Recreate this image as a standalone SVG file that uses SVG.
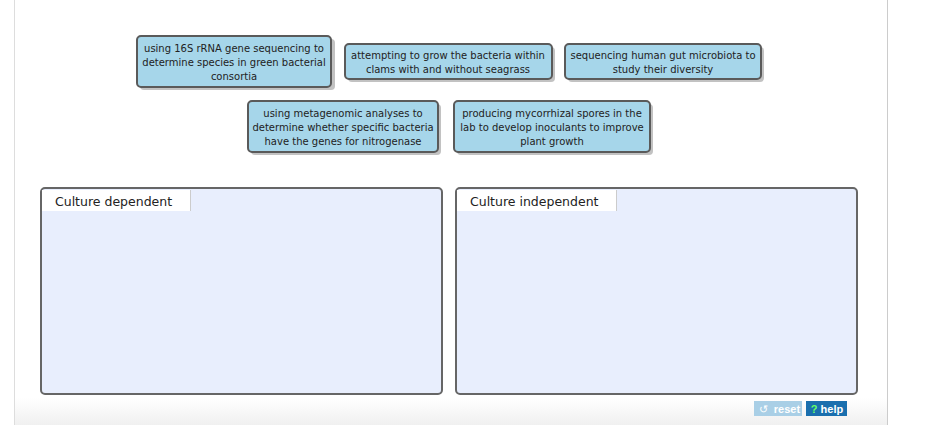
<svg xmlns="http://www.w3.org/2000/svg" width="944" height="425" viewBox="0 0 944 425">
<defs>
<linearGradient id="bg" x1="0" y1="0" x2="0" y2="1"><stop offset="0" stop-color="#fff"/><stop offset="1" stop-color="#f0f0f0"/></linearGradient>
</defs>
<style>
.card{fill:#a6d6ea;stroke:#5a5a5a;stroke-width:2}
.sh{fill:#999;opacity:.6}
.t{font-family:"DejaVu Sans",Verdana,sans-serif;font-size:10px;fill:#222;text-anchor:middle}
.zone{fill:#e8eefd;stroke:#666;stroke-width:2}
.tab{fill:#fff}
.h{font-family:"DejaVu Sans",Verdana,sans-serif;font-size:12.5px;fill:#222}
</style>
<rect width="944" height="425" fill="#fff"/>
<rect x="14" y="398" width="873" height="27" fill="url(#bg)"/>
<line x1="14.5" y1="0" x2="14.5" y2="425" stroke="#ddd"/>
<line x1="887.5" y1="0" x2="887.5" y2="425" stroke="#ccc"/>
<g id="n1"><rect class="sh" x="140" y="39" width="195" height="51" rx="4"/><rect class="card" x="137" y="36" width="194" height="51" rx="4"/><text class="t" x="234" y="52">using 16S rRNA gene sequencing to</text><text class="t" x="234" y="66">determine species in green bacterial</text><text class="t" x="234" y="80">consortia</text></g>
<g id="n2"><rect class="sh" x="348" y="47" width="207" height="35" rx="4"/><rect class="card" x="345" y="44" width="207" height="35" rx="4"/><text class="t" x="448" y="59">attempting to grow the bacteria within</text><text class="t" x="448" y="73">clams with and without seagrass</text></g>
<g id="n3"><rect class="sh" x="568" y="47" width="196" height="35" rx="4"/><rect class="card" x="565" y="44" width="196" height="35" rx="4"/><text class="t" x="663" y="59">sequencing human gut microbiota to</text><text class="t" x="663" y="73">study their diversity</text></g>
<g id="n4"><rect class="sh" x="251" y="104" width="190" height="51" rx="4"/><rect class="card" x="248" y="101" width="190" height="51" rx="4"/><text class="t" x="343" y="117">using metagenomic analyses to</text><text class="t" x="343" y="131">determine whether specific bacteria</text><text class="t" x="343" y="145">have the genes for nitrogenase</text></g>
<g id="n5"><rect class="sh" x="457" y="104" width="196" height="51" rx="4"/><rect class="card" x="454" y="101" width="196" height="51" rx="4"/><text class="t" x="552" y="117">producing mycorrhizal spores in the</text><text class="t" x="552" y="131">lab to develop inoculants to improve</text><text class="t" x="552" y="145">plant growth</text></g>
<g id="z1"><rect class="zone" x="41" y="188" width="401" height="206" rx="4"/><rect class="tab" x="42" y="190" width="148" height="21"/><line x1="190.5" y1="190" x2="190.5" y2="211" stroke="#ccc"/><text class="h" x="55" y="206">Culture dependent</text></g>
<g id="z2"><rect class="zone" x="456" y="188" width="401" height="206" rx="4"/><rect class="tab" x="457" y="190" width="159" height="21"/><line x1="616.5" y1="190" x2="616.5" y2="211" stroke="#ccc"/><text class="h" x="470" y="206">Culture independent</text></g>
<g id="connectors"></g>
<g id="btns">
<rect x="754" y="401" width="48" height="15" fill="#a9cfe6"/><text x="787" y="413" font-family="Liberation Sans,Arial,sans-serif" font-size="11" font-weight="bold" fill="#fff" text-anchor="middle">reset</text><text x="763" y="413" font-family="Liberation Sans,Arial,sans-serif" font-size="11" fill="#fff" text-anchor="middle">↺</text>
<rect x="806" y="401" width="41" height="15" fill="#1a6fae"/><text x="827" y="413" font-family="Liberation Sans,Arial,sans-serif" font-size="11" font-weight="bold" fill="#fff" text-anchor="middle"><tspan fill="#6f6">?</tspan> help</text>
</g>
</svg>
